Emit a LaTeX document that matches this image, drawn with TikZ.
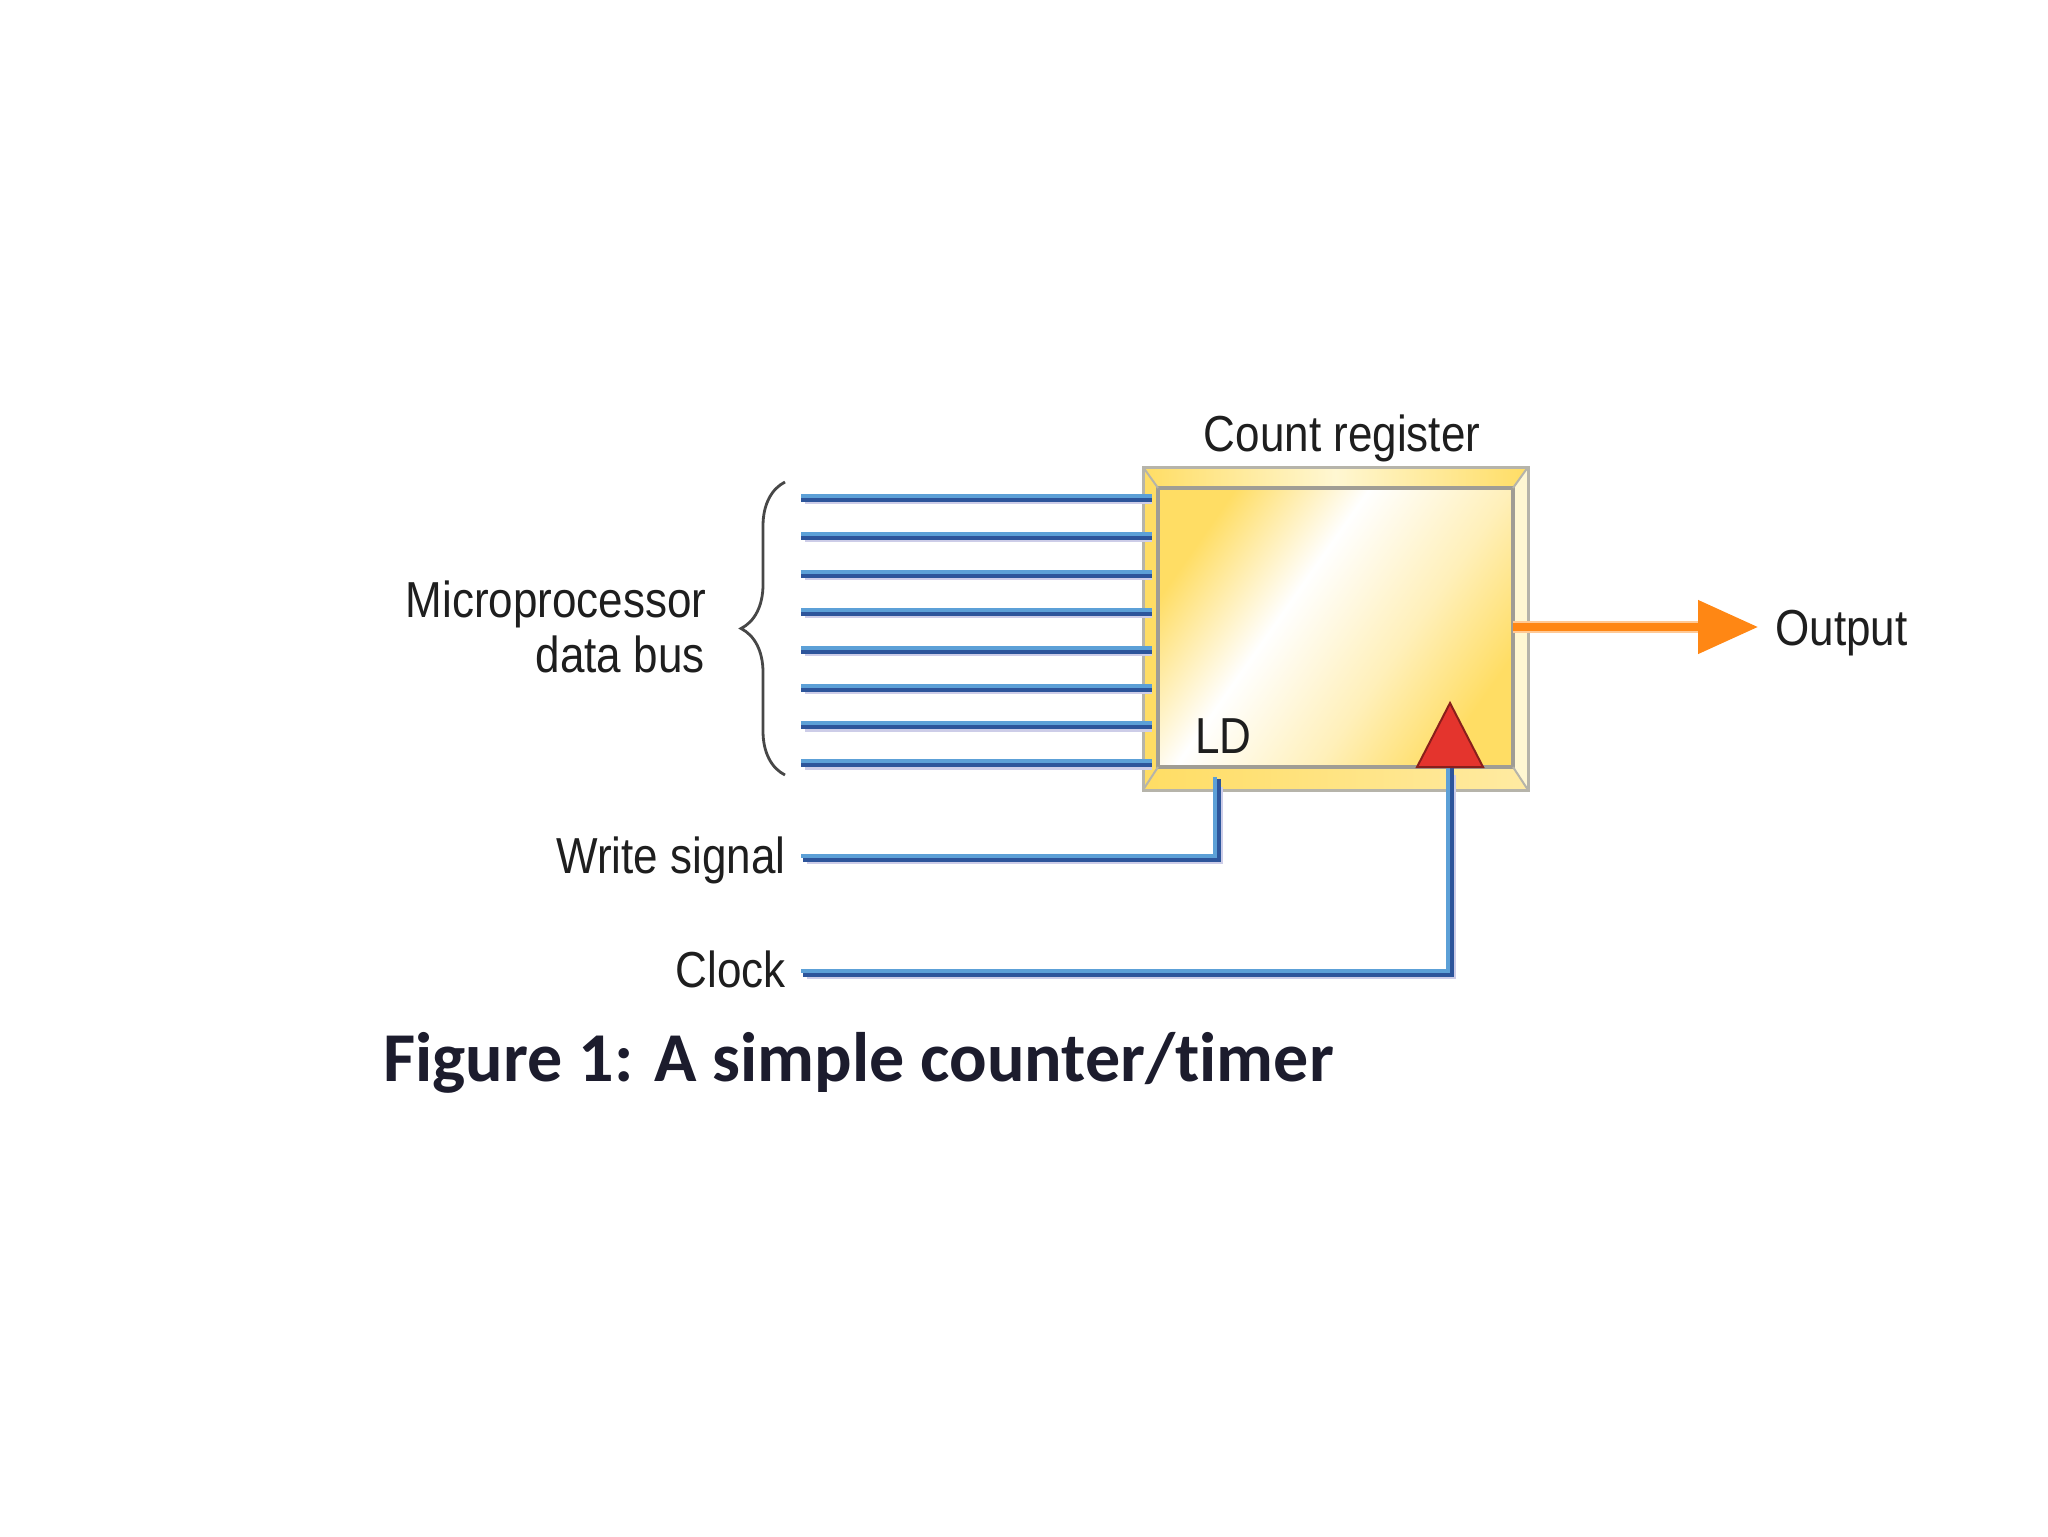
\documentclass[tikz,border=0pt]{standalone}
\usepackage{fontspec}
\usepackage{graphicx}
\setmainfont{Liberation Sans}
\newfontfamily\capfont[Ligatures=NoCommon]{Carlito}
\usetikzlibrary{arrows.meta,calc,decorations.pathreplacing}

\definecolor{ylw}{RGB}{255,221,100}
\definecolor{ylwlight}{RGB}{255,247,210}
\definecolor{framegray}{RGB}{182,180,170}
\definecolor{innergray}{RGB}{160,157,148}
\definecolor{wiredark}{RGB}{45,85,155}
\definecolor{wirelight}{RGB}{92,160,215}
\definecolor{wireshadow}{RGB}{205,205,232}
\definecolor{orng}{RGB}{255,135,20}
\definecolor{trired}{RGB}{228,52,45}
\definecolor{txt}{RGB}{30,30,30}
\definecolor{captxt}{RGB}{28,28,45}

\pgfdeclarehorizontalshading{regshade}{100bp}{color(0bp)=(ylw); color(25bp)=(ylw); color(42bp)=(white); color(60bp)=(ylw!45!white); color(75bp)=(ylw); color(100bp)=(ylw)}

\newcommand\tall[1]{\scalebox{1}[1.15]{#1}}

\tikzset{
  lbl/.style={font=\fontsize{22}{27.5}\selectfont, text=txt, inner sep=0pt},
  regbox/.style={rectangle, draw=framegray, line width=1.5pt, fill=ylw,
    minimum width=192.5pt, minimum height=161.5pt, inner sep=0pt, outer sep=0pt},
  busdark/.style={draw=wiredark, line width=4pt},
  buslight/.style={draw=wirelight, line width=2pt},
  busshadow/.style={draw=wireshadow, line width=1.3pt},
  outhalo/.style={draw=orng!45!white, line width=6pt},
  outarrow/.style={draw=orng, line width=4pt, -{Triangle[length=30pt,width=26pt]}},
  bracestyle/.style={decorate, decoration={brace, amplitude=22pt}, draw=black!72, line width=1.4pt},
  captionstyle/.style={font=\capfont\bfseries\fontsize{35}{40}\selectfont, text=captxt, inner sep=0pt}
}

\begin{document}
\begin{tikzpicture}[x=0.5pt,y=-0.5pt]
\fill[white] (0,0) rectangle (2048,1536);
\useasboundingbox (0,0) rectangle (2048,1536);

% register box
\node[regbox] (reg) at (1335.5,628.5) {};
\coordinate (innw) at (1158,488);
\coordinate (inne) at (1513,488);
\coordinate (insw) at (1158,767);
\coordinate (inse) at (1513,767);
\shade[left color=ylw, right color=ylw, middle color=ylwlight]
  (reg.north west) -- (reg.north east) -- (inne) -- (innw) -- cycle;
\fill[ylwlight] (reg.north east) -- (inne) -- (inse) -- (reg.south east) -- cycle;
\shade[left color=ylw, right color=ylw!60!white]
  (reg.south west) -- (reg.south east) -- (inse) -- (insw) -- cycle;
\draw[framegray, line width=1.5pt] (reg.north west) rectangle (reg.south east);
\shade[shading=regshade, shading angle=-35] (innw) rectangle (inse);
\draw[innergray, line width=2pt] (innw) rectangle (inse);
\draw[framegray, line width=1pt] (reg.north west) -- (innw);
\draw[framegray, line width=1pt] (reg.north east) -- (inne);
\draw[framegray, line width=1pt] (reg.south west) -- (insw);
\draw[framegray, line width=1pt] (reg.south east) -- (inse);

% labels
\node[lbl, anchor=base] (title) at (1342,451) {\tall{Count register}};
\node[lbl, anchor=base west] (ld) at (1195,753) {\tall{LD}};
\node[lbl, anchor=base west] (out) at (1775,645) {\tall{Output}};
\node[lbl, anchor=base east] (wlab) at (786,873) {\tall{Write signal}};
\node[lbl, anchor=base east] (clab) at (786,987) {\tall{Clock}};
\node[lbl, anchor=base east] (mlab1) at (707,617) {\tall{Microprocessor}};
\node[lbl, anchor=base east] (mlab2) at (705,672) {\tall{data bus}};
\node[captionstyle, anchor=base west] (cap) at (383,1081) {Figure 1: A simple counter/timer};

% brace
\draw[bracestyle] (785,775) -- (785,482);

% data bus lines
\foreach \i in {0,...,7} {
  \coordinate (b\i) at (801,{498+\i*37.9});
  \coordinate (e\i) at ($(b\i -| reg.west)+(9,0)$);
  \draw[busshadow] ($(b\i)+(4,5)$) -- ($(e\i)+(0,5)$);
  \draw[busdark] (b\i) -- (e\i);
  \draw[buslight] ($(b\i)+(0,-2)$) -- ($(e\i)+(0,-2)$);
}

% write signal
\coordinate (ws) at (803,858);
\coordinate (ldin) at (1217,779);
\draw[busshadow] ($(ws)+(4,5)$) -| ($(ldin)+(5,8)$);
\draw[busdark] (ws) -| (ldin);
\draw[buslight] ($(ws)+(-2,-2)$) -| ($(ldin)+(-2,-2)$);

% clock
\coordinate (ck) at (803,973);
\coordinate (clkin) at (1450,767);
\draw[busshadow] ($(ck)+(4,5)$) -| ($(clkin)+(5,8)$);
\draw[busdark] (ck) -| (clkin);
\draw[buslight] ($(ck)+(-2,-2)$) -| ($(clkin)+(-2,-2)$);

% clock triangle
\filldraw[fill=trired, draw=trired!60!black, line width=1pt]
  (1417,767) -- (1450,703) -- (1483,767) -- cycle;

% output arrow
\coordinate (outst) at (1513,627);
\coordinate (outtip) at (1758,627);
\draw[outhalo] (outst) -- (1705,627);
\draw[outarrow] (outst) -- (outtip);
\end{tikzpicture}
\end{document}
